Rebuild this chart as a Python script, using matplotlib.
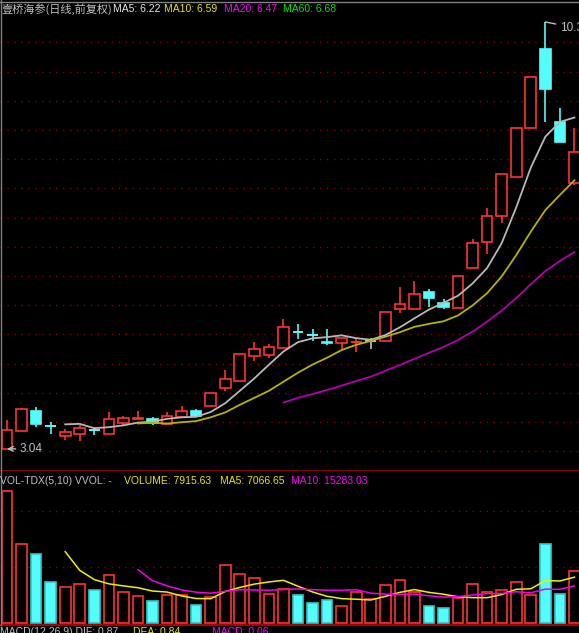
import numpy as np
import pandas as pd
import matplotlib
matplotlib.use('Agg')
import matplotlib.pyplot as plt
from matplotlib.patches import Rectangle
from matplotlib.lines import Line2D

# daily K-line data (first 40 trading days)
opens = [3.04, 3.35, 3.69, 3.43, 3.26, 3.30, 3.37, 3.29, 3.48, 3.55,
         3.55, 3.46, 3.59, 3.68, 3.77, 4.09, 4.20, 4.63, 4.65, 4.76,
         5.04, 5.00, 4.875, 4.86, 4.87, 4.89, 4.88, 5.43, 5.43, 5.72,
         5.53, 5.46, 6.14, 6.59, 7.02, 7.70, 8.53, 9.89, 8.63, 7.60]
highs = [3.54, 3.74, 3.75, 3.50, 3.38, 3.45, 3.42, 3.67, 3.60, 3.68,
         3.58, 3.67, 3.77, 3.72, 3.99, 4.39, 4.66, 4.87, 4.84, 5.26,
         5.18, 5.09, 5.09, 4.93, 4.93, 4.94, 5.39, 5.81, 5.91, 5.77,
         5.60, 6.00, 6.63, 7.16, 7.75, 8.54, 9.40, 10.35, 8.87, 8.53]
lows = [3.04, 3.34, 3.42, 3.29, 3.20, 3.18, 3.28, 3.29, 3.44, 3.55,
        3.45, 3.46, 3.59, 3.58, 3.77, 4.03, 4.20, 4.545, 4.60, 4.76,
        4.92, 4.88, 4.81, 4.75, 4.70, 4.75, 4.88, 5.36, 5.43, 5.47,
        5.435, 5.46, 6.14, 6.38, 6.90, 7.70, 8.53, 8.63, 8.29, 7.55]
closes = [3.36, 3.73, 3.46, 3.42, 3.33, 3.40, 3.36, 3.55, 3.57, 3.57,
          3.48, 3.60, 3.68, 3.61, 3.99, 4.23, 4.66, 4.745, 4.78, 5.12,
          5.03, 4.99, 4.85, 4.93, 4.88, 4.89, 5.39, 5.515, 5.70, 5.63,
          5.47, 6.00, 6.56, 7.03, 7.75, 8.54, 9.40, 9.21, 8.29, 8.13]
volumes = [19760, 11800, 10300, 6100, 5300, 5750, 4900, 7100, 4550, 3950,
           3250, 4150, 4150, 2650, 3800, 8600, 7250, 6650, 4250, 5050,
           4150, 2950, 3400, 2500, 4600, 3600, 5650, 6400, 4600, 2500,
           2200, 3750, 5750, 4550, 4900, 6100, 4150, 11850, 4300, 7750]

df = pd.DataFrame({'open': opens, 'high': highs, 'low': lows,
                   'close': closes, 'vol': volumes})
df['ma5'] = df['close'].rolling(5).mean()
df['ma10'] = df['close'].rolling(10).mean()
df['ma20'] = df['close'].rolling(20).mean()
df['vma5'] = df['vol'].rolling(5).mean()
df['vma10'] = df['vol'].rolling(10).mean()

RED = '#ff3232'
CYAN = '#54fcfc'
GRAY = '#c0c0c0'
GRID = '#8c0000'

W, H = 579, 633
fig = plt.figure(figsize=(W / 100, H / 100), dpi=100, facecolor='black')
ax = fig.add_axes([0, 1 - 471 / H, 1, 471 / H])
axv = fig.add_axes([0, 1 - 625 / H, 1, 154 / H])

step = 14.55
xlim = (-7 / step, (W - 7) / step)
for a in (ax, axv):
    a.set_facecolor('black')
    a.set_xticks([])
    a.set_yticks([])
    for s in ('top', 'left', 'right'):
        a.spines[s].set_visible(False)
    a.set_xlim(*xlim)
ax.spines['bottom'].set_color('#a00000')
axv.spines['bottom'].set_color('#c80000')
ax.spines['bottom'].set_linewidth(1.2)
axv.spines['bottom'].set_linewidth(1.2)

ax.set_ylim(2.661, 10.726)
axv.set_ylim(-345, 22755)

# dotted grid
for p in np.arange(3.0, 10.01, 0.5):
    ax.axhline(p, color=GRID, lw=1, ls=(0, (1, 4)), zorder=1)
for v in (8300, 16750):
    axv.axhline(v, color=GRID, lw=1, ls=(0, (1, 4)), zorder=1)

w = 0.735
x = np.arange(len(df))
for i, r in df.iterrows():
    o, h, l, c = r['open'], r['high'], r['low'], r['close']
    if c > o:
        col, fc = RED, 'black'
    elif c < o:
        col, fc = CYAN, CYAN
    else:
        col, fc = GRAY, 'black'
    top, bot = max(o, c), min(o, c)
    ax.vlines(i, l, h, color=col, lw=1.2, zorder=2)
    if top - bot < 0.02:
        ax.hlines((top + bot) / 2, i - w / 2, i + w / 2, color=col, lw=1.4, zorder=2)
    else:
        ax.add_patch(Rectangle((i - w / 2, bot), w, top - bot, facecolor=fc,
                               edgecolor=col, lw=1.2, zorder=2))

ax.plot(x, df['ma5'], color='#b8b8b8', lw=1.3, zorder=3)
ax.plot(x, df['ma10'], color='#b4b400', lw=1.3, zorder=3)
ax.plot(x, df['ma20'], color='#b000b0', lw=1.3, zorder=3)

# high / low marks
ax.annotate('3.04', xy=(0, 3.04), xytext=(0.88, 3.04), color=GRAY,
            fontsize=8.5, va='center', ha='left', family='Liberation Sans',
            arrowprops=dict(arrowstyle='->', color=GRAY, lw=1, shrinkA=1, shrinkB=0))
ax.annotate('10.35', xy=(37, 10.35), xytext=(38.0, 10.25), color=GRAY,
            fontsize=8.5, va='center', ha='left', family='Liberation Sans',
            annotation_clip=False,
            arrowprops=dict(arrowstyle='-', color=GRAY, lw=1, shrinkA=1, shrinkB=0))

# volume bars
vfc = [('black' if c >= o else CYAN) for o, c in zip(opens, closes)]
vec = [(RED if c >= o else '#30c8c8') for o, c in zip(opens, closes)]
axv.bar(x, df['vol'], width=w, color=vfc, edgecolor=vec, lw=1.2, zorder=2)
axv.plot(x, df['vma5'], color='#f0f000', lw=1.1, zorder=3)
axv.plot(x, df['vma10'], color='#f000f0', lw=1.1, zorder=3)

# frame lines
fig.add_artist(Line2D([0, 1], [1 - 1.5 / H] * 2, color='#808080', lw=1))
fig.add_artist(Line2D([1.2 / W] * 2, [1 - 625 / H, 1], color='#808080', lw=1))


def ftext(px, py, s, color, fam='Liberation Sans', va='center', size=7.5):
    fig.text(px / W, 1 - py / H, s, color=color, fontsize=size, va=va, ha='left',
             family=fam)


ftext(1, 9, '壹桥海参(日线,前复权)', GRAY, fam=['Noto Sans CJK SC', 'DejaVu Sans'], size=8)
ftext(113, 9, 'MA5: 6.22', '#e6e6e6')
ftext(164, 9, 'MA10: 6.59', '#e6e600')
ftext(224, 9, 'MA20: 6.47', '#ff00ff')
ftext(283, 9, 'MA60: 6.68', '#00e600')

ftext(0, 480.5, 'VOL-TDX(5,10) VVOL: -', GRAY)
ftext(124, 480.5, 'VOLUME: 7915.63', '#e6e600')
ftext(220, 480.5, 'MA5: 7066.65', '#e6e600')
ftext(291, 480.5, 'MA10: 15283.03', '#ff00ff')

ftext(0, 627, 'MACD(12,26,9) DIF: 0.87', GRAY, va='top')
ftext(133, 627, 'DEA: 0.84', '#e6e600', va='top')
ftext(212, 627, 'MACD: 0.06', '#ff00ff', va='top')

fig.savefig('out.png', dpi=100, facecolor='black')
